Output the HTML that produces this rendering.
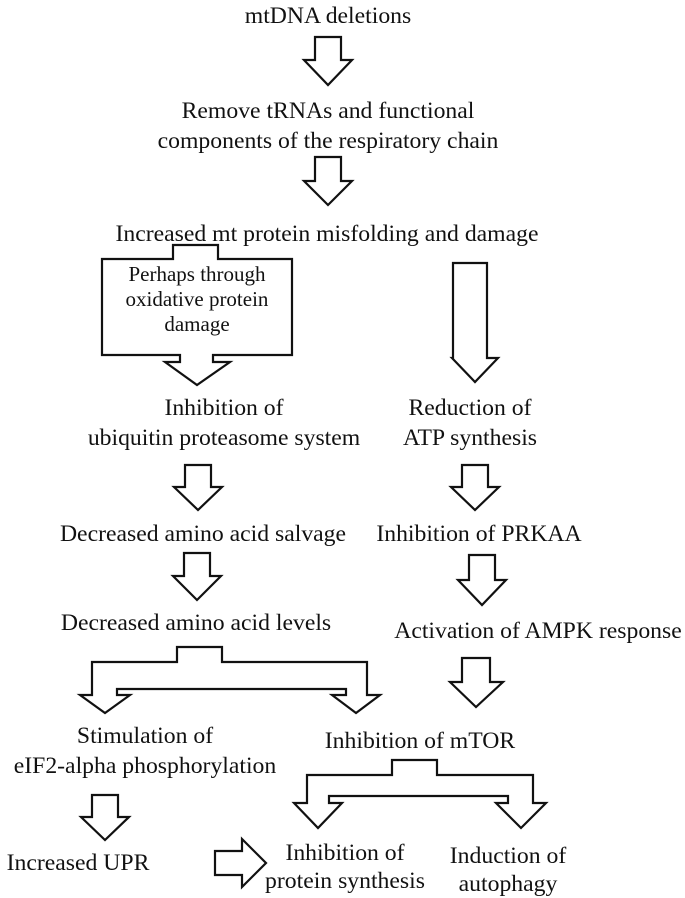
<!DOCTYPE html>
<html><head><meta charset="utf-8"><style>
html,body{margin:0;padding:0;background:#fff;}
svg{display:block;}
text{font-family:"Liberation Serif",serif;font-size:23.7px;fill:#111;text-anchor:middle;}
.s{font-size:21px;}
polygon{fill:#fff;stroke:#111;stroke-width:2.2;stroke-linejoin:miter;}
</style></head><body>
<svg width="685" height="898" viewBox="0 0 685 898">
<text x="328" y="23">mtDNA deletions</text>
<polygon points="315,37 341,37 341,60 352,60 328,85 304,60 315,60"/>
<text x="328" y="118">Remove tRNAs and functional</text>
<text x="328" y="148">components of the respiratory chain</text>
<polygon points="315,157 341,157 341,181 352,181 328,205 304,181 315,181"/>
<text x="327" y="241">Increased mt protein misfolding and damage</text>
<polygon points="173,245 218,245 218,259 292,259 292,355 213,355 213,362 230,362 197,385 165,362 180,362 180,355 102,355 102,259 173,259"/>
<text class="s" x="197" y="281">Perhaps through</text>
<text class="s" x="197" y="306">oxidative protein</text>
<text class="s" x="197" y="331">damage</text>
<polygon points="453,263 487,263 487,358 498,358 475,382 452,358 453,358"/>
<text x="224" y="415">Inhibition of</text>
<text x="224" y="445">ubiquitin proteasome system</text>
<text x="470" y="415">Reduction of</text>
<text x="470" y="445">ATP synthesis</text>
<polygon points="185,465 211,465 211,487 222,487 198,510 174,487 185,487"/>
<polygon points="462,465 488,465 488,487 499,487 475,510 451,487 462,487"/>
<text x="203" y="541">Decreased amino acid salvage</text>
<text x="479" y="541">Inhibition of PRKAA</text>
<polygon points="184,553 210,553 210,576 221,576 197,600 173,576 184,576"/>
<polygon points="469,555 495,555 495,580 506,580 482,605 458,580 469,580"/>
<text x="196" y="630">Decreased amino acid levels</text>
<text x="538" y="638">Activation of AMPK response</text>
<polygon points="177,647 222,647 222,662 367,662 367,695 380,695 356,713 332,695 346,695 346,689 117,689 117,695 130,695 105,713 80,695 92,695 92,662 177,662"/>
<polygon points="462,658 490,658 490,682 503,682 476,707 450,682 462,682"/>
<text x="145" y="743">Stimulation of</text>
<text x="145" y="773">eIF2-alpha phosphorylation</text>
<text x="420" y="748">Inhibition of mTOR</text>
<polygon points="392,760 437,760 437,775 533,775 533,803 546,803 521,828 496,803 508,803 508,796 329,796 329,803 342,803 318,828 294,803 307,803 307,775 392,775"/>
<polygon points="92,795 118,795 118,817 129,817 105,840 81,817 92,817"/>
<text x="78" y="870">Increased UPR</text>
<polygon points="215,851 242,851 242,839 266,863 242,887 242,875 215,875"/>
<text x="345" y="860">Inhibition of</text>
<text x="345" y="888">protein synthesis</text>
<text x="508" y="863">Induction of</text>
<text x="508" y="891">autophagy</text>
</svg>
</body></html>
